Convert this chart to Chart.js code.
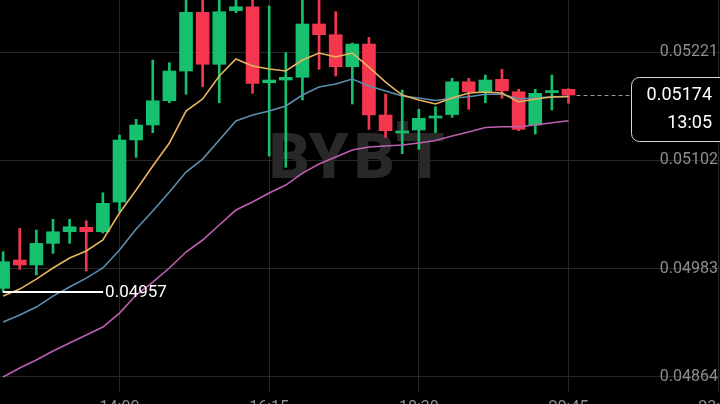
<!DOCTYPE html>
<html>
<head>
<meta charset="utf-8">
<script src="https://cdn.jsdelivr.net/npm/chart.js@4.4.0/dist/chart.umd.min.js"></script>
<style>
    html, body { margin: 0; padding: 0; background: #000; overflow: hidden; }
    #wrap { width: 720px; height: 420px; }
</style>
</head>
<body>
<div id="wrap"><canvas id="klineChart" width="720" height="420"></canvas></div>
<script>
// 15 min candles
let times = [
    '12:15', '12:30', '12:45', '13:00', '13:15', '13:30', '13:45', '14:00', '14:15', '14:30', '14:45', '15:00',
    '15:15', '15:30', '15:45', '16:00', '16:15', '16:30', '16:45', '17:00', '17:15', '17:30', '17:45', '18:00',
    '18:15', '18:30', '18:45', '19:00', '19:15', '19:30', '19:45', '20:00', '20:15', '20:30', '20:45',
];
let opens = [
    0.049612, 0.049924, 0.049869, 0.050107, 0.050235, 0.050284, 0.050235, 0.050562, 0.051245, 0.051410, 0.051677, 0.052004,
    0.052650, 0.052078, 0.052668, 0.052712, 0.051875, 0.051905, 0.051935, 0.052522, 0.052404, 0.052051, 0.052301, 0.051520,
    0.051322, 0.051355, 0.051487, 0.051525, 0.051886, 0.051776, 0.051913, 0.051776, 0.051410, 0.051767, 0.051803,
];
let highs = [
    0.050015, 0.050273, 0.050254, 0.050372, 0.050372, 0.050356, 0.050664, 0.051300, 0.051472, 0.052125, 0.052096, 0.052810,
    0.052800, 0.052810, 0.052810, 0.052800, 0.052720, 0.052206, 0.052810, 0.052810, 0.052657, 0.052312, 0.052375, 0.051751,
    0.051795, 0.051583, 0.051611, 0.051924, 0.051924, 0.051960, 0.052023, 0.051803, 0.051803, 0.051960, 0.051810,
];
let lows = [
    0.049570, 0.049821, 0.049759, 0.049997, 0.050107, 0.049803, 0.050221, 0.050455, 0.051054, 0.051325, 0.051655, 0.051748,
    0.051831, 0.051655, 0.052646, 0.051759, 0.051068, 0.050944, 0.051685, 0.052023, 0.051949, 0.051641, 0.051362, 0.051274,
    0.051094, 0.051142, 0.051325, 0.051494, 0.051583, 0.051655, 0.051704, 0.051347, 0.051311, 0.051575, 0.051649,
];
let closes = [
    0.049905, 0.049869, 0.050107, 0.050235, 0.050290, 0.050235, 0.050548, 0.051245, 0.051410, 0.051677, 0.052004, 0.052650,
    0.052078, 0.052657, 0.052712, 0.051869, 0.051905, 0.051935, 0.052522, 0.052404, 0.052051, 0.052301, 0.051520, 0.051347,
    0.051338, 0.051483, 0.051509, 0.051886, 0.051776, 0.051905, 0.051787, 0.051362, 0.051759, 0.051789, 0.051740,
];
let ma7 = [
    0.049527, 0.049604, 0.049714, 0.049836, 0.049946, 0.050023, 0.050144, 0.050441, 0.050694, 0.050958, 0.051212, 0.051564,
    0.051696, 0.051949, 0.052136, 0.052059, 0.052026, 0.052004, 0.052125, 0.052202, 0.052158, 0.052202, 0.052048, 0.051883,
    0.051740, 0.051685, 0.051641, 0.051707, 0.051762, 0.051773, 0.051762, 0.051663, 0.051696, 0.051718, 0.051723,
];
let ma14 = [
    0.049241, 0.049318, 0.049406, 0.049527, 0.049626, 0.049725, 0.049836, 0.050034, 0.050265, 0.050463, 0.050672, 0.050892,
    0.051035, 0.051245, 0.051454, 0.051520, 0.051564, 0.051619, 0.051740, 0.051828, 0.051861, 0.051916, 0.051839, 0.051784,
    0.051729, 0.051707, 0.051679, 0.051704, 0.051721, 0.051748, 0.051748, 0.051696, 0.051707, 0.051721, 0.051723,
];
let ma28 = [
    0.048636, 0.048735, 0.048823, 0.048922, 0.049010, 0.049098, 0.049186, 0.049340, 0.049538, 0.049681, 0.049836, 0.050012,
    0.050144, 0.050309, 0.050474, 0.050562, 0.050661, 0.050749, 0.050881, 0.050980, 0.051057, 0.051135, 0.051168, 0.051179,
    0.051190, 0.051212, 0.051239, 0.051289, 0.051333, 0.051382, 0.051391, 0.051391, 0.051410, 0.051435, 0.051457,
];
let xTickLabels = ['14:00', '16:15', '18:30', '20:45', '23:00'];
let yTickValues = [0.04864, 0.04983, 0.05102, 0.05221];
let lastPrice = 0.05174;
let countdown = '13:05';

let upColor = '#16c06e';
let downColor = '#f4364f';
let gridColor = '#262626';
let labelColor = '#8d8d8d';

function toMinutes(t) {
    let parts = t.split(':');
    return parseInt(parts[0]) * 60 + parseInt(parts[1]);
}

let xs = times.map(toMinutes);
let candleColors = opens.map((o, i) => closes[i] >= o ? upColor : downColor);
let toPoints = (arr) => arr.map((v, i) => ({ x: xs[i], y: v }));

let overlayPlugin = {
    id: 'overlay',
    beforeDatasetsDraw(chart) {
        // watermark
        let ctx = chart.ctx;
        ctx.save();
        ctx.fillStyle = '#282828';
        ctx.font = '900 63px Roboto';
        ctx.textBaseline = 'alphabetic';
        ctx.textAlign = 'left';
        ctx.fillText('B', 269, 178);
        ctx.fillText('Y', 309, 178);
        ctx.fillText('B', 354, 178);
        ctx.fillText('T', 405, 178);
        ctx.beginPath();
        ctx.rect(390, 120, 20, 21);
        ctx.clip();
        ctx.fillText('I', 393, 166);
        ctx.restore();
    },
    afterDatasetsDraw(chart) {
        let ctx = chart.ctx;
        let xScale = chart.scales.x;
        let yScale = chart.scales.y;
        ctx.save();

        // lowest low marker
        let minLow = Math.min(...lows);
        let minIdx = lows.indexOf(minLow);
        let lx = xScale.getPixelForValue(xs[minIdx]);
        let ly = Math.round(yScale.getPixelForValue(minLow));
        ctx.strokeStyle = '#ffffff';
        ctx.lineWidth = 2;
        ctx.beginPath();
        ctx.moveTo(lx, ly);
        ctx.lineTo(lx + 100, ly);
        ctx.stroke();
        ctx.fillStyle = '#ffffff';
        ctx.font = '17px Roboto';
        ctx.textAlign = 'left';
        ctx.textBaseline = 'middle';
        ctx.fillText(minLow.toFixed(5), lx + 102, ly + 1);

        // last price line and box
        let lastX = xScale.getPixelForValue(xs[xs.length - 1]);
        let py = Math.round(yScale.getPixelForValue(lastPrice)) + 0.5;
        let boxLeft = 631.5;
        ctx.strokeStyle = '#9a9a9a';
        ctx.lineWidth = 1;
        ctx.setLineDash([4, 3]);
        ctx.beginPath();
        ctx.moveTo(lastX + 8, py);
        ctx.lineTo(boxLeft, py);
        ctx.stroke();
        ctx.setLineDash([]);

        ctx.fillStyle = '#000000';
        ctx.strokeStyle = '#d8d8d8';
        ctx.beginPath();
        ctx.roundRect(boxLeft, py - 18, 110, 64, 8);
        ctx.fill();
        ctx.stroke();

        ctx.fillStyle = '#ffffff';
        ctx.font = '18px Roboto';
        ctx.textAlign = 'right';
        ctx.textBaseline = 'middle';
        ctx.fillText(lastPrice.toFixed(5), 712, py);
        ctx.fillText(countdown, 712, py + 28);
        ctx.restore();
    },
};

let ctx = document.getElementById('klineChart');

new Chart(ctx, {
    type: 'bar',
    data: {
        datasets: [
            {
                type: 'line', label: 'MA7', data: toPoints(ma7), order: 0,
                borderColor: '#e6b45e', borderWidth: 1.6, pointRadius: 0, tension: 0,
            },
            {
                type: 'line', label: 'MA14', data: toPoints(ma14), order: 0,
                borderColor: '#5d8ead', borderWidth: 1.6, pointRadius: 0, tension: 0,
            },
            {
                type: 'line', label: 'MA28', data: toPoints(ma28), order: 0,
                borderColor: '#bf5fae', borderWidth: 1.6, pointRadius: 0, tension: 0,
            },
            {
                label: 'body', order: 1, grouped: false,
                data: xs.map((x, i) => ({ x: x, y: [opens[i], closes[i]] })),
                backgroundColor: candleColors, borderWidth: 0,
                barThickness: 13, minBarLength: 2,
            },
            {
                label: 'wick', order: 2, grouped: false,
                data: xs.map((x, i) => ({ x: x, y: [lows[i], highs[i]] })),
                backgroundColor: candleColors, borderWidth: 0,
                barThickness: 2,
            },
        ],
    },
    options: {
        responsive: false,
        animation: false,
        devicePixelRatio: 1,
        layout: { padding: 0 },
        plugins: {
            legend: { display: false },
            tooltip: { enabled: false },
        },
        scales: {
            x: {
                type: 'linear',
                offset: false,
                min: 732.2,
                max: 1381.65,
                grid: { color: gridColor, offset: false, drawTicks: false },
                border: { display: false },
                afterBuildTicks: (scale) => {
                    scale.ticks = xTickLabels.map(t => ({ value: toMinutes(t) }));
                },
                afterFit: (scale) => {
                    scale.height = 28;
                    scale.paddingLeft = 0;
                    scale.paddingRight = 0;
                },
                ticks: {
                    color: labelColor,
                    font: { family: 'Roboto', size: 16 },
                    padding: 6,
                    maxRotation: 0,
                    autoSkip: false,
                    callback: (value) => xTickLabels[xTickLabels.map(toMinutes).indexOf(value)],
                },
            },
            y: {
                position: 'right',
                min: 0.048471,
                max: 0.052786,
                grid: { color: gridColor, drawTicks: false },
                border: { display: false },
                afterBuildTicks: (scale) => {
                    scale.ticks = yTickValues.map(v => ({ value: v }));
                },
                afterFit: (scale) => {
                    scale.width = 0;
                    scale.paddingTop = 0;
                    scale.paddingBottom = 0;
                },
                ticks: {
                    mirror: true,
                    color: labelColor,
                    font: { family: 'Roboto', size: 16 },
                    padding: -2,
                    callback: (value) => value.toFixed(5),
                },
            },
        },
    },
    plugins: [overlayPlugin],
});
</script>
</body>
</html>
